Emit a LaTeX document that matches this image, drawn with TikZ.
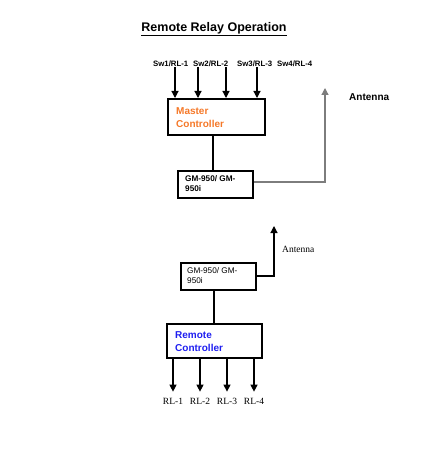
\documentclass[tikz,border=0pt]{standalone}
\usepackage{fontspec}
\setmainfont{Liberation Serif}
\setsansfont{Liberation Sans}
\usetikzlibrary{arrows.meta}
\definecolor{mastercol}{RGB}{245,120,40}
\definecolor{remotecol}{RGB}{30,30,240}
\definecolor{antgray}{RGB}{125,125,125}
\begin{document}
\begin{tikzpicture}[x=1pt,y=-1pt]
            \tikzstyle{box}=[draw=black, line width=1.8pt, inner sep=0pt, anchor=north west]
            \tikzstyle{boldlbl}=[inner sep=0pt, font=\sffamily\bfseries]
            \tikzstyle{edge}=[black, line width=1.2pt]
            \tikzstyle{arr}=[black, line width=1.2pt, -{Triangle[width=7pt,length=7pt]}]
            \useasboundingbox (0,0) rectangle (439,473);

            % title
            \node[boldlbl, font=\sffamily\bfseries\fontsize{12.5}{14}\selectfont] (title) at (214,29) {\underline{Remote Relay Operation}};

            % master side
            \node[boldlbl, font=\sffamily\bfseries\fontsize{7.8}{9}\selectfont, anchor=west] (sw1) at (153,64) {Sw1/RL-1};
            \node[boldlbl, font=\sffamily\bfseries\fontsize{7.8}{9}\selectfont, anchor=west] (sw2) at (193,64) {Sw2/RL-2};
            \node[boldlbl, font=\sffamily\bfseries\fontsize{7.8}{9}\selectfont, anchor=west] (sw3) at (237,64) {Sw3/RL-3};
            \node[boldlbl, font=\sffamily\bfseries\fontsize{7.8}{9}\selectfont, anchor=west] (sw4) at (277,64) {Sw4/RL-4};

            \node[box, minimum width=97pt, minimum height=36pt] (master) at (167,98) {};
            \node[boldlbl, anchor=north west, align=left, text=mastercol, font=\sffamily\bfseries\fontsize{10}{13}\selectfont] (mastertxt) at (176,107) {Master\\Controller};

            \node[box, minimum width=75pt, minimum height=27pt] (gmA) at (177,170) {};
            \node[boldlbl, anchor=north west, align=left, font=\sffamily\bfseries\fontsize{8.2}{10}\selectfont] (gmAtxt) at (185,175) {GM-950/ GM-\\950i};

            \node[boldlbl, anchor=west, font=\sffamily\bfseries\fontsize{10}{12}\selectfont] (antA) at (349,97) {Antenna};

            \foreach \i/\x in {1/175,2/198,3/226,4/257} {
                \coordinate (in\i) at (\x,67);
                \draw[arr] (in\i) -- (\x,98);
            }
            \draw[edge] (master.south -| 213,0) -- (gmA.north -| 213,0);
            \coordinate (antAtip) at (325,88);
            \draw[antgray, line width=1.2pt, -{Triangle[width=7pt,length=7pt]}] (gmA.east |- 0,182) -- (325,182) -- (antAtip);

            % remote side
            \node[box, minimum width=75pt, minimum height=27pt] (gmB) at (180,262) {};
            \node[inner sep=0pt, anchor=north west, align=left, font=\sffamily\fontsize{8.2}{10}\selectfont] (gmBtxt) at (187,267) {GM-950/ GM-\\950i};

            \node[inner sep=0pt, anchor=west, font=\fontsize{9.5}{11}\selectfont] (antB) at (282,249) {Antenna};
            \coordinate (antBtip) at (274,226);
            \draw[arr] (gmB.east |- 0,276) -- (274,276) -- (antBtip);

            \node[box, minimum width=95pt, minimum height=34pt] (remote) at (166,323) {};
            \node[boldlbl, anchor=north west, align=left, text=remotecol, font=\sffamily\bfseries\fontsize{10}{13}\selectfont] (remotetxt) at (175,331) {Remote\\Controller};

            \draw[edge] (gmB.south -| 214,0) -- (remote.north -| 214,0);

            \foreach \i/\x in {1/173,2/200,3/227,4/254} {
                \node[inner sep=0pt, font=\fontsize{9.5}{11}\selectfont] (rl\i) at (\x,401) {RL-\i};
                \draw[arr] (\x,357) -- ([yshift=6pt]rl\i.north);
            }
        \end{tikzpicture}
\end{document}
